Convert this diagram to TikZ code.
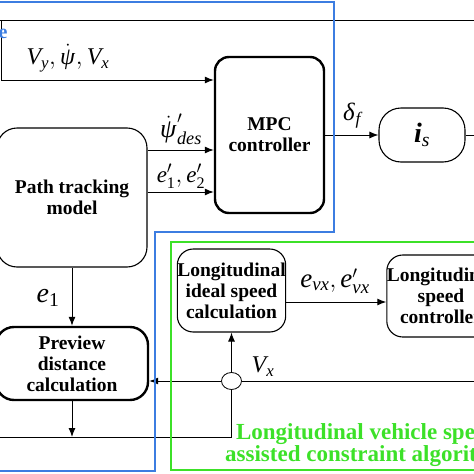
\documentclass[tikz,border=0pt]{standalone}
\usepackage{amsmath}
\usepackage{mathspec}
\setmainfont{Liberation Serif}
\setmathsfont(Digits,Latin,Greek){Liberation Serif}
\usetikzlibrary{arrows.meta}
\usetikzlibrary{shapes.geometric}
\tikzset{>={Latex[length=9pt,width=7pt]}}
\definecolor{frameblue}{RGB}{60,125,225}
\definecolor{framegreen}{RGB}{60,225,40}
\tikzset{box/.style = {draw, rounded corners=16pt, line width=1.1pt,
align=center, inner sep=0pt, font=\fontsize{19.5}{21}\selectfont\bfseries}}
\tikzset{heavybox/.style = {box, line width=2.4pt}}
\tikzset{sig/.style = {inner sep=0pt, font=\fontsize{23}{23}\selectfont}}

\begin{document}
\begin{tikzpicture}[x=1pt,y=-1pt,line width=1pt]
                \useasboundingbox (0,0) rectangle (474,474);
                \clip (0,0) rectangle (474,474);

                \node[heavybox, minimum width=109pt, minimum height=156pt, rounded corners=14pt] (mpc) at (269.5,135) {MPC\\controller};
                \node[box, minimum width=150pt, minimum height=139pt, rounded corners=20pt] (track) at (72,197.5) {Path tracking\\model};
                \node[box, minimum width=86pt, minimum height=54pt, rounded corners=22pt, font=\fontsize{28}{28}\selectfont] (ratio) at (422,135) {\textbf{\textit{i}}$_s$};
                \node[heavybox, minimum width=152pt, minimum height=73pt, rounded corners=18pt] (preview) at (72,363.5) {Preview\\distance\\calculation};
                \node[box, minimum width=108pt, minimum height=83pt] (ideal) at (231.5,290.5) {Longitudinal\\ideal speed\\calculation};
                \node[box, minimum width=104pt, minimum height=82pt] (speed) at (441,296) {Longitudinal\\speed\\controller};
                \node[draw, ellipse, line width=0.8pt, minimum width=20pt, minimum height=17pt, inner sep=0pt] (junc) at (231.5,381) {};

                \coordinate (tl) at (0,20);
                \coordinate (tr) at (474,20);
                \coordinate (tk) at (1,20);
                \coordinate (fb) at (1,80);
                \coordinate (sr) at (474,135);
                \coordinate (er) at (474,381);
                \coordinate (bl) at (0,437);

                \draw (tl) to (tr);
                \draw[->] (tk) -- (fb) -- (fb -| mpc.west);
                \draw[->] (track.east |- 0,150) to (mpc.west |- 0,150);
                \draw[->] (track.east |- 0,192) to (mpc.west |- 0,192);
                \draw[->] (mpc) to (ratio);
                \draw (ratio) to (sr);

                \draw[->] (track) to (preview);
                \draw[->] (preview.south) to (preview.south |- bl);
                \draw (bl) -| (junc.south);
                \draw[->] (junc.west) to (preview.east |- junc);
                \draw (junc.east) to (er);
                \draw[->] (junc.north) to (ideal.south);
                \draw[->] (ideal.east |- 0,302) to (speed.west |- 0,302);

                \node[sig, font=\fontsize{24}{24}\selectfont] (vel) at (68,58) {$V_y,\dot{\psi},V_x$};
                \node[sig, font=\fontsize{26}{26}\selectfont] (yaw) at (181,129) {$\dot{\psi}'_{des}$};
                \node[sig] (err) at (181,176) {$e'_1,e'_2$};
                \node[sig, font=\fontsize{25}{25}\selectfont] (delta) at (352,116) {$\delta_f$};
                \node[sig, font=\fontsize{28}{28}\selectfont] (eone) at (48,298) {$e_1$};
                \node[sig, font=\fontsize{27}{27}\selectfont] (evx) at (335,281) {$e_{vx},e'_{vx}$};
                \node[sig, font=\fontsize{24}{24}\selectfont] (vx) at (263,367) {$V_x$};

                % frames
                \draw[frameblue, line width=1.6pt] (-5,2) -- (334,2) -- (334,232) -- (155,232) -- (155,471) -- (-5,471);
                \draw[framegreen, line width=2.4pt] (171,242) rectangle (490,470);
                \node[text=frameblue, anchor=east, inner sep=0pt, font=\fontsize{20}{20}\selectfont\bfseries] (lat) at (8,34) {e};
                \node[text=framegreen, align=center, font=\fontsize{23}{21}\selectfont\bfseries] (algo) at (367,445) {Longitudinal vehicle speed\\assisted constraint algorithm};
            \end{tikzpicture}
\end{document}
